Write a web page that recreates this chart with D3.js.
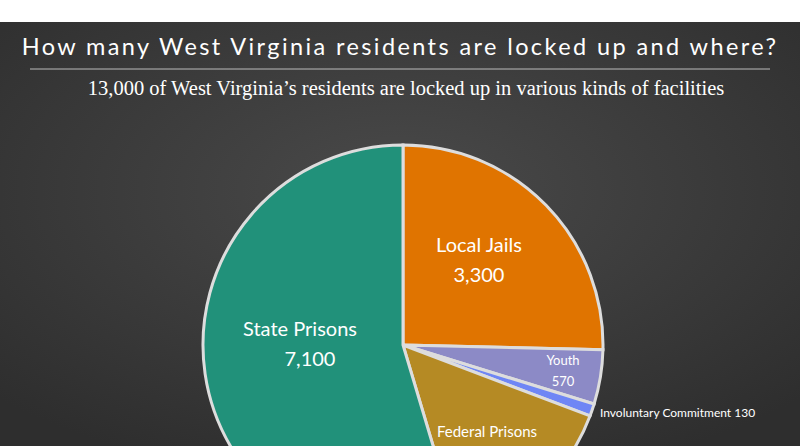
<!DOCTYPE html><html><head><script src="https://cdn.jsdelivr.net/npm/d3@7"></script>
<style>body{margin:0;background:#fff}</style></head><body><svg id="c" width="800" height="446"></svg>
<script>
const categories=["Local Jails","Youth","Involuntary Commitment","Federal Prisons","State Prisons"];
const values=[3300,570,130,1900,7100];
const colors=["#e07400","#8c8ac6","#6f86f5","#b58a24","#21917a"];
const svg=d3.select("#c");
const defs=svg.append("defs");
const g=defs.append("radialGradient").attr("id","bg").attr("cx","50%").attr("cy","40%").attr("r","70%");
g.append("stop").attr("offset","0%").attr("stop-color","#4a4a4a");
g.append("stop").attr("offset","100%").attr("stop-color","#2e2e2e");
svg.append("rect").attr("y",22).attr("width",800).attr("height",424).attr("fill","url(#bg)");
svg.append("text").attr("x",400).attr("y",55).attr("text-anchor","middle").attr("fill","#fff")
 .attr("font-family","Lato").attr("font-size",23.5).attr("letter-spacing",2.4).text("How many West Virginia residents are locked up and where?");
svg.append("line").attr("x1",30).attr("x2",770).attr("y1",69).attr("y2",69).attr("stroke","#bbb");
svg.append("text").attr("x",406).attr("y",95).attr("text-anchor","middle").attr("fill","#fff")
 .attr("font-family","Liberation Serif").attr("font-size",20.5).text("13,000 of West Virginia’s residents are locked up in various kinds of facilities");
const cx=403,cy=345,R=200;
const pie=d3.pie().sort(null).value(d=>d)(values);
const arc=d3.arc().innerRadius(0).outerRadius(R);
const pg=svg.append("g").attr("transform",`translate(${cx},${cy})`);
pg.selectAll("path").data(pie).join("path").attr("d",arc).attr("fill",(d,i)=>colors[i]).attr("stroke","#ddd").attr("stroke-width",3);
const lab=(x,y,t,s,a="middle")=>svg.append("text").attr("x",x).attr("y",y).attr("text-anchor",a).attr("fill","#fff").attr("font-family","Lato").attr("font-size",s).text(t);
const f=d3.format(",");
lab(479,252,categories[0],20);lab(479,282,f(values[0]),20);
lab(300,336,categories[4],20);lab(310,366,f(values[4]),20);
lab(563,365,categories[1],13);lab(563,386,f(values[1]),13);
lab(600,417,categories[2]+" "+values[2],12,"start");
lab(487,437,categories[3],15);
</script></body></html>
